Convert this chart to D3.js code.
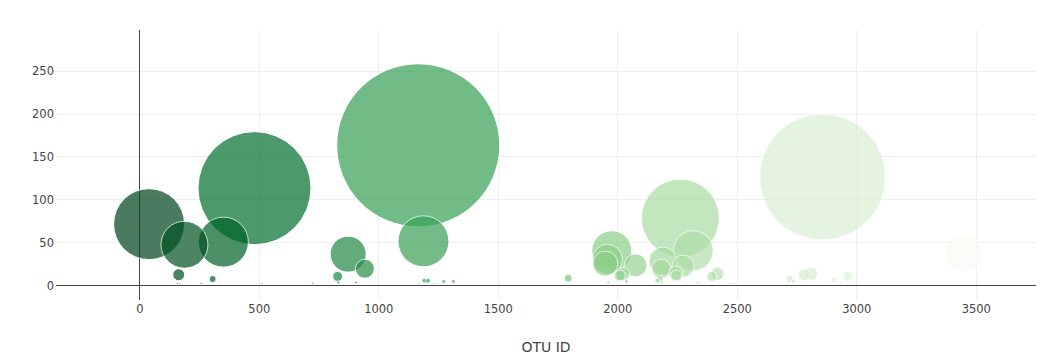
<!DOCTYPE html>
<html>
<head>
<meta charset="utf-8">
<script src="https://cdn.jsdelivr.net/npm/d3@7"></script>
<style>
  body { margin: 0; background: #fff; }
  text { font-family: "DejaVu Sans", verdana, arial, sans-serif; fill: #444; }
</style>
</head>
<body>
<svg id="chart"></svg>
<script>
// otu ids (x) and sample values (y and bubble size)
var otuIds = [1167, 2859, 482, 2264, 41, 1189, 352, 189, 2318, 1977, 3450, 874, 1959, 2191, 1950, 2077,
  2275, 944, 2184, 2244, 2024, 2419, 2811, 165, 2782, 2247, 2011, 2396, 830, 2964, 1795, 2722, 307,
  2178, 2908, 1193, 2167, 1208, 2039, 1274, 2739, 2737, 1314, 1962, 2186, 2335, 2936, 907, 833, 2483,
  2475, 2491, 2291, 159, 2571, 2350, 2342, 2546, 725, 170, 1505, 513, 259, 1169, 258, 1232, 1497,
  1498, 1503, 412, 2235, 1960, 1968, 121, 2065, 340, 2110, 2188, 342, 357];
var sampleValues = [163, 126, 113, 78, 71, 51, 50, 47, 40, 40, 37, 36, 30, 28, 25, 23,
  22, 19, 19, 14, 13, 13, 13, 12, 12, 11, 11, 10, 10, 10, 8, 7, 7,
  7, 6, 5, 5, 5, 4, 4, 4, 4, 4, 3, 3, 3, 3, 3, 3, 2,
  2, 2, 2, 2, 2, 2, 2, 2, 2, 2, 2, 2, 2, 2, 2, 2, 1,
  1, 1, 1, 1, 1, 1, 1, 1, 1, 1, 1, 1, 1];
var xTicks = [0, 500, 1000, 1500, 2000, 2500, 3000, 3500];
var yTicks = [0, 50, 100, 150, 200, 250];
var greens = ["rgb(0,68,27)", "rgb(0,109,44)", "rgb(35,139,69)", "rgb(65,171,93)", "rgb(116,196,118)",
  "rgb(161,217,155)", "rgb(199,233,192)", "rgb(229,245,224)", "rgb(247,252,245)"];

var svgWidth = 1056, svgHeight = 362;
var margin = { top: 30, right: 20, bottom: 62, left: 56 };
var width = svgWidth - margin.left - margin.right;
var height = svgHeight - margin.top - margin.bottom;

var dataset = otuIds.map(function(id, i) { return { id: id, value: sampleValues[i] }; });

var svg = d3.select("#chart")
  .attr("width", svgWidth)
  .attr("height", svgHeight);

var g = svg.append("g")
  .attr("transform", "translate(" + margin.left + "," + margin.top + ")");

var x = d3.scaleLinear().domain([-348.5, 3752]).range([0, width]);
var y = d3.scaleLinear().domain([-17.5, 297.5]).range([height, 0]);

var idMin = d3.min(otuIds), idMax = d3.max(otuIds);
var color = d3.scaleLinear()
  .domain(greens.map(function(c, i) { return idMin + (idMax - idMin) * i / (greens.length - 1); }))
  .range(greens)
  .interpolate(d3.interpolateRgb);

// grid
g.append("g")
  .selectAll("line")
  .data(xTicks.filter(function(d) { return d !== 0; }))
  .enter().append("line")
  .attr("x1", function(d) { return Math.round(x(d)) + 0.5; })
  .attr("x2", function(d) { return Math.round(x(d)) + 0.5; })
  .attr("y1", 0).attr("y2", height)
  .attr("stroke", "#eee").attr("stroke-width", 1);

g.append("g")
  .selectAll("line")
  .data(yTicks.filter(function(d) { return d !== 0; }))
  .enter().append("line")
  .attr("y1", function(d) { return Math.round(y(d)) + 0.5; })
  .attr("y2", function(d) { return Math.round(y(d)) + 0.5; })
  .attr("x1", 0).attr("x2", width)
  .attr("stroke", "#eee").attr("stroke-width", 1);

// zero lines
g.append("line")
  .attr("x1", Math.round(x(0)) + 0.5).attr("x2", Math.round(x(0)) + 0.5)
  .attr("y1", 0).attr("y2", height)
  .attr("stroke", "#444").attr("stroke-width", 1);
g.append("line")
  .attr("y1", Math.round(y(0)) + 0.5).attr("y2", Math.round(y(0)) + 0.5)
  .attr("x1", 0).attr("x2", width)
  .attr("stroke", "#444").attr("stroke-width", 1);

// tick labels
var xAxis = g.append("g")
  .attr("transform", "translate(0," + height + ")")
  .call(d3.axisBottom(x).tickValues(xTicks).tickFormat(d3.format("d")).tickSize(0).tickPadding(0));
xAxis.select(".domain").remove();
xAxis.selectAll("text")
  .attr("y", 13)
  .attr("dy", 0)
  .style("font-size", "11.5px")
  .style("font-family", "'DejaVu Sans', verdana, arial, sans-serif")
  .attr("fill", "#444");

var yAxis = g.append("g")
  .call(d3.axisLeft(y).tickValues(yTicks).tickFormat(d3.format("d")).tickSize(0).tickPadding(2));
yAxis.select(".domain").remove();
yAxis.selectAll("text")
  .attr("dy", "0.36em")
  .style("font-size", "11.5px")
  .style("font-family", "'DejaVu Sans', verdana, arial, sans-serif")
  .attr("fill", "#444");

// bubbles
svg.append("clipPath").attr("id", "plot-clip")
  .append("rect").attr("width", width).attr("height", height);

g.append("g")
  .attr("clip-path", "url(#plot-clip)")
  .selectAll("circle")
  .data(dataset)
  .enter().append("circle")
  .attr("cx", function(d) { return x(d.id); })
  .attr("cy", function(d) { return y(d.value); })
  .attr("r", function(d) { return d.value / 2; })
  .attr("fill", function(d) { return color(d.id); })
  .attr("stroke", "#fff")
  .attr("stroke-width", 1)
  .style("opacity", 0.7);

// axis title
svg.append("text")
  .attr("x", margin.left + width / 2)
  .attr("y", 352)
  .attr("text-anchor", "middle")
  .style("font-size", "14px")
  .text("OTU ID");
</script>
</body>
</html>
